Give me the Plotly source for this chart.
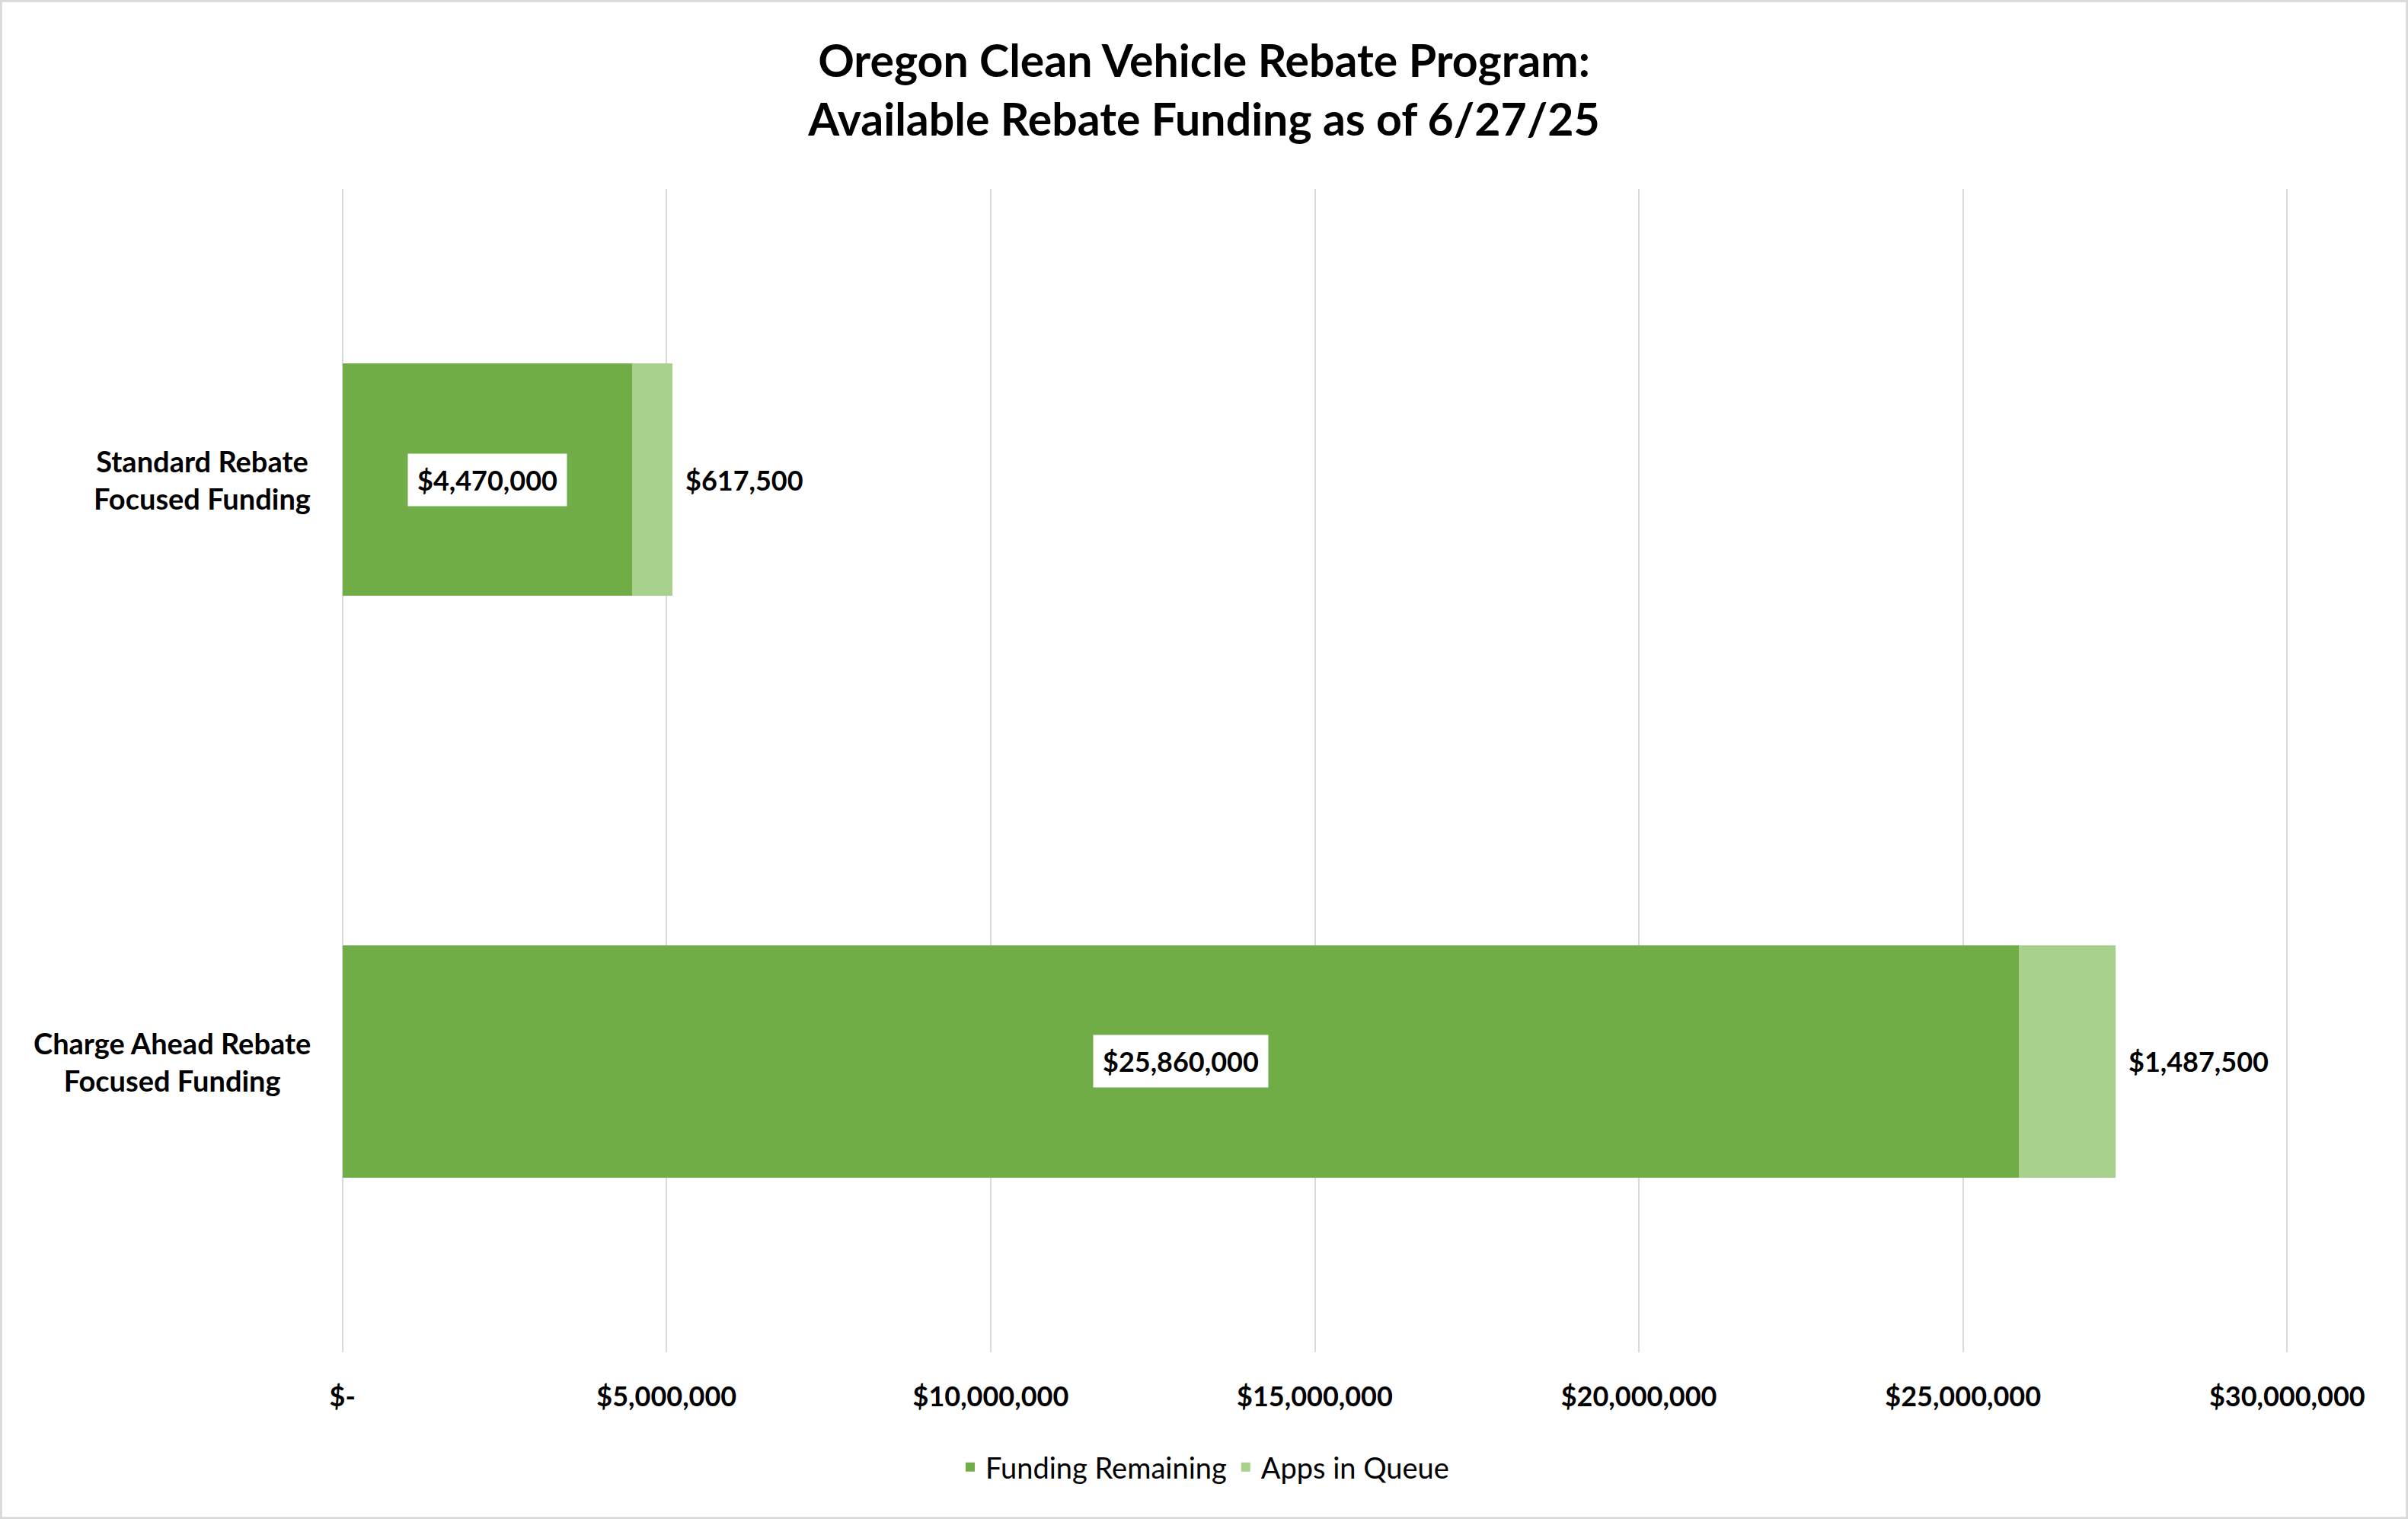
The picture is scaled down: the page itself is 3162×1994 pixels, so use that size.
import plotly.graph_objects as go

categories = ["Standard Rebate<br>Focused Funding", "Charge Ahead Rebate<br>Focused Funding"]
funding_remaining = [4470000, 25860000]
apps_in_queue = [617500, 1487500]
tick_vals = [0, 5000000, 10000000, 15000000, 20000000, 25000000, 30000000]
tick_text = ["$-", "$5,000,000", "$10,000,000", "$15,000,000", "$20,000,000", "$25,000,000", "$30,000,000"]

W, H = 3162, 1994
ML, MR, MT, MB = 448, 157, 248, 219
PW, PH = W - ML - MR, H - MT - MB

FONT = "Lato, Carlito, Calibri, sans-serif"
DARK = "#70AD47"
LIGHT = "#A9D18E"

fig = go.Figure()
fig.add_trace(go.Bar(y=categories, x=funding_remaining, orientation="h",
                     name="Funding Remaining", marker=dict(color=DARK, line=dict(width=0))))
fig.add_trace(go.Bar(y=categories, x=apps_in_queue, orientation="h",
                     name="Apps in Queue", marker=dict(color=LIGHT, line=dict(width=0))))

def money(v):
    return "${:,.0f}".format(v)

annotations = []
for cat, fr, aq in zip(categories, funding_remaining, apps_in_queue):
    annotations.append(dict(x=fr / 2, y=cat, xref="x", yref="y", text=money(fr),
                            showarrow=False, bgcolor="white", borderpad=12,
                            font=dict(family=FONT, size=36, color="black", weight="bold")))
    annotations.append(dict(x=fr + aq, y=cat, xref="x", yref="y", text=money(aq),
                            showarrow=False, bgcolor="white", borderpad=12, xanchor="left",
                            xshift=4,
                            font=dict(family=FONT, size=36, color="black", weight="bold")))
    annotations.append(dict(x=-38 / PW, y=cat, xref="paper", yref="y", text=cat,
                            showarrow=False, xanchor="right", align="center",
                            font=dict(family=FONT, size=38, color="black", weight="bold")))

fig.update_layout(
    width=W, height=H,
    margin=dict(l=ML, r=MR, t=MT, b=MB),
    paper_bgcolor="white", plot_bgcolor="white",
    barmode="stack", bargap=0.6,
    title=dict(text="Oregon Clean Vehicle Rebate Program:<br>Available Rebate Funding as of 6/27/25",
               x=0.5, xanchor="center", xref="container", y=1 - 101 / H, yref="container",
               yanchor="middle",
               font=dict(family=FONT, size=59, color="black", weight="bold")),
    xaxis=dict(range=[-20000, 30020000], tickvals=tick_vals, ticktext=tick_text,
               showgrid=True, gridcolor="#D9D9D9", gridwidth=2, zeroline=False,
               showline=False, ticks="", ticklabelstandoff=34,
               tickfont=dict(family=FONT, size=36, color="black", weight="bold")),
    yaxis=dict(autorange="reversed", showticklabels=False, showgrid=False,
               zeroline=False, showline=False, ticks=""),
    legend=dict(orientation="h", xref="container", yref="container", x=0.5, y=1 - 1926 / H,
                xanchor="center", yanchor="middle", itemwidth=30, traceorder="normal",
                font=dict(family=FONT, size=38, color="black")),
    annotations=annotations,
    shapes=[dict(type="rect", xref="paper", yref="paper",
                 x0=-ML / PW + 0.0005, x1=1 + MR / PW - 0.0005,
                 y0=-MB / PH + 0.0009, y1=1 + MT / PH - 0.0009,
                 line=dict(color="#D9D9D9", width=3), layer="below")],
)

fig.write_html("out.html", config={"displayModeBar": False},
               post_script="document.body.style.margin='0';document.body.style.overflow='hidden';")
